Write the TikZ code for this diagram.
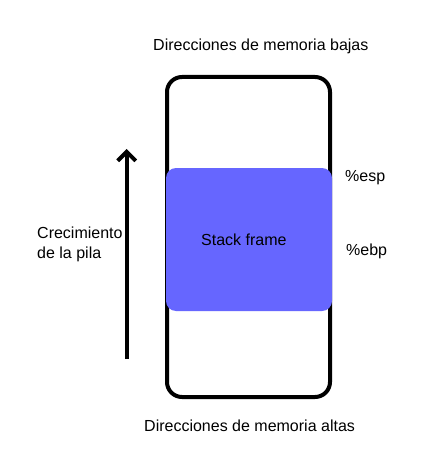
\documentclass[tikz,border=0pt]{standalone}
\usepackage{fontspec}
\setmainfont{Liberation Sans}
\usetikzlibrary{arrows.meta}
\definecolor{framecol}{HTML}{6666FF}
\begin{document}
\begin{tikzpicture}[x=1pt,y=-1pt,
  lbl/.style={inner sep=0pt,anchor=base west,font=\fontsize{16}{19.2}\selectfont},
  memoutline/.style={draw=black,line width=4pt,rounded corners=15pt},
  framebox/.style={fill=framecol,rounded corners=10pt},
  growarrow/.style={line width=4pt,-{Straight Barb[length=9pt,width=18pt,line width=4pt]}}]
\useasboundingbox (0,0) rectangle (437,465);
\fill[white] (0,0) rectangle (437,465);
\draw[memoutline] (167,77) rectangle (330,397);
\fill[framebox] (166,168) rectangle (332,311);
\coordinate (arrbot) at (126.7,359);
\coordinate (arrtop) at (126.7,149);
\draw[growarrow] (arrbot) -- (arrtop);
\node[lbl] (top) at (153,51) {Direcciones de memoria bajas};
\node[lbl] (bot) at (144,431) {Direcciones de memoria altas};
\node[lbl] (sf) at (201,245) {Stack frame};
\node[lbl] (esp) at (345,181) {\%esp};
\node[lbl] (ebp) at (346,255) {\%ebp};
\node[lbl] (cr1) at (37,238) {Crecimiento};
\node[lbl] (cr2) at (37,258) {de la pila};
\end{tikzpicture}
\end{document}
